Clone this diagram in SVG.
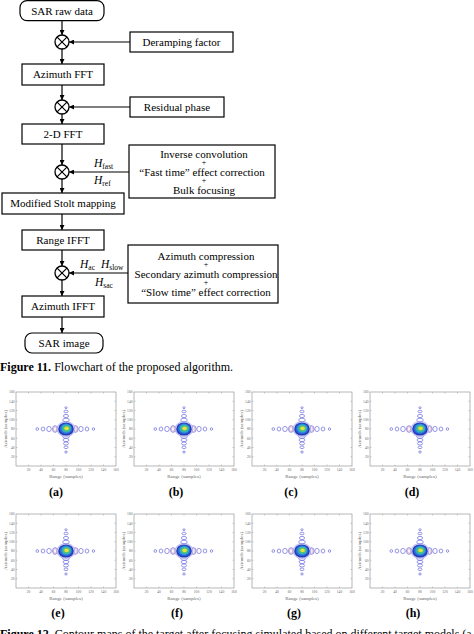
<svg xmlns="http://www.w3.org/2000/svg" xmlns:xlink="http://www.w3.org/1999/xlink" width="474" height="634" viewBox="0 0 474 634">
<style>
.box{fill:#fff;stroke:#000;stroke-width:1.2}
.t{font-family:"Liberation Serif",serif;font-size:11px;fill:#000;text-anchor:middle}
.p{font-family:"Liberation Serif",serif;font-size:8px;fill:#000;text-anchor:middle}
.h{font-family:"Liberation Serif",serif;font-size:11.5px;font-style:italic;fill:#000}
.sub{font-size:7.5px;font-style:normal}
.cn{stroke:#000;stroke-width:1.2;fill:none}
.cap{font-family:"Liberation Serif",serif;font-size:12px;fill:#000}
.sl{font-family:"Liberation Serif",serif;font-size:12px;font-weight:bold;fill:#000;text-anchor:middle}
.ax{fill:#fff;stroke:#888;stroke-width:0.6}
.tk{stroke:#888;stroke-width:0.4}
.tl{font-family:"Liberation Serif",serif;font-size:3.6px;fill:#666}
.al{font-family:"Liberation Serif",serif;font-size:5px;fill:#666;text-anchor:middle}
.lb{fill:none;stroke:#6a6ae0;stroke-width:0.7}
.lp{fill:none;stroke:#d08aa0;stroke-width:0.6}
</style>
<defs>
<marker id="arr" viewBox="0 0 10 10" refX="10" refY="5" markerWidth="5" markerHeight="5" orient="auto" markerUnits="userSpaceOnUse">
<path d="M0,0 L10,5 L0,10 z" fill="#000"/>
</marker>
<g id="mul">
<circle cx="0" cy="0" r="7" fill="#fff" stroke="#000" stroke-width="1.3"/>
<path d="M-4.9,-4.9 L4.9,4.9 M-4.9,4.9 L4.9,-4.9" stroke="#000" stroke-width="1.2"/>
</g>
<g id="plot">
<rect class="ax" x="0" y="0" width="100" height="74"/>
<path class="tk" d="M12.5,74v-1.5M25,74v-1.5M37.5,74v-1.5M50,74v-1.5M62.5,74v-1.5M75,74v-1.5M87.5,74v-1.5M12.5,0v1.5M25,0v1.5M37.5,0v1.5M50,0v1.5M62.5,0v1.5M75,0v1.5M87.5,0v1.5M0,64.75h1.5M0,55.5h1.5M0,46.25h1.5M0,37h1.5M0,27.75h1.5M0,18.5h1.5M0,9.25h1.5M100,64.75h-1.5M100,55.5h-1.5M100,46.25h-1.5M100,37h-1.5M100,27.75h-1.5M100,18.5h-1.5M100,9.25h-1.5"/>
<g class="tl" text-anchor="end">
<text x="-1.5" y="66">20</text><text x="-1.5" y="56.7">40</text><text x="-1.5" y="47.5">60</text><text x="-1.5" y="38.2">80</text><text x="-1.5" y="29">100</text><text x="-1.5" y="19.7">120</text><text x="-1.5" y="10.5">140</text><text x="-1.5" y="1.2">160</text>
</g>
<g class="tl" text-anchor="middle">
<text x="12.5" y="79">20</text><text x="25" y="79">40</text><text x="37.5" y="79">60</text><text x="50" y="79">80</text><text x="62.5" y="79">100</text><text x="75" y="79">120</text><text x="87.5" y="79">140</text><text x="100" y="79">160</text>
</g>
<text class="al" x="50" y="85.5">Range (samples)</text>
<text class="al" transform="translate(-9.5,37) rotate(-90)">Azimuth (samples)</text>
<g transform="translate(50,37)">
<ellipse class="lb" cx="-28.7" cy="0" rx="1.3" ry="1.4"/>
<ellipse class="lb" cx="-23" cy="0" rx="1.8" ry="2"/>
<ellipse class="lb" cx="-17" cy="0" rx="2.3" ry="2.6"/>
<ellipse class="lb" cx="-11" cy="0" rx="2.5" ry="3.4"/>
<ellipse class="lp" cx="-11" cy="0" rx="1.5" ry="2.4"/>
<ellipse class="lb" cx="9.5" cy="0" rx="2.5" ry="3.4"/>
<ellipse class="lp" cx="9.5" cy="0" rx="1.5" ry="2.4"/>
<ellipse class="lb" cx="15" cy="0" rx="2.2" ry="2.6"/>
<ellipse class="lb" cx="21" cy="0" rx="1.8" ry="2"/>
<ellipse class="lb" cx="27.5" cy="0" rx="1.2" ry="1.3"/>
<ellipse class="lb" cx="0" cy="-21.3" rx="1.2" ry="0.9"/>
<ellipse class="lb" cx="0" cy="-17.5" rx="2" ry="1.3"/>
<ellipse class="lb" cx="0" cy="-13" rx="2.6" ry="1.6"/>
<ellipse class="lb" cx="0" cy="-9" rx="3.3" ry="1.8"/>
<ellipse class="lb" cx="0" cy="7.5" rx="3.3" ry="1.8"/>
<ellipse class="lb" cx="0" cy="11" rx="3" ry="1.6"/>
<ellipse class="lb" cx="0" cy="14.5" rx="2.6" ry="1.5"/>
<ellipse class="lb" cx="0" cy="18.3" rx="2" ry="1.3"/>
<ellipse class="lb" cx="0" cy="23" rx="1.3" ry="1"/>
<ellipse cx="0" cy="0" rx="9" ry="7.5" fill="#d8d8f8" stroke="#8080e0" stroke-width="0.5"/>
<ellipse cx="0" cy="0" rx="7.8" ry="6.6" fill="#2438b8"/>
<ellipse cx="0" cy="-0.3" rx="6.4" ry="5.4" fill="#2c6ad8"/>
<ellipse cx="0.3" cy="-0.5" rx="5" ry="4.2" fill="#2aa8d8"/>
<ellipse cx="0.5" cy="-0.6" rx="3.7" ry="3.1" fill="#4cc07a"/>
<ellipse cx="0.6" cy="-0.7" rx="2.3" ry="1.9" fill="#e6e23c"/>
</g>
</g>
</defs>

<g id="connectors">
<line class="cn" x1="62" y1="21" x2="62" y2="35" marker-end="url(#arr)"/>
<line class="cn" x1="62" y1="49" x2="62" y2="64" marker-end="url(#arr)"/>
<line class="cn" x1="130" y1="42" x2="69" y2="42" marker-end="url(#arr)"/>
<line class="cn" x1="62" y1="85" x2="62" y2="100" marker-end="url(#arr)"/>
<line class="cn" x1="62" y1="114" x2="62" y2="124" marker-end="url(#arr)"/>
<line class="cn" x1="130" y1="107" x2="69" y2="107" marker-end="url(#arr)"/>
<line class="cn" x1="62" y1="144" x2="62" y2="165" marker-end="url(#arr)"/>
<line class="cn" x1="62" y1="179" x2="62" y2="193" marker-end="url(#arr)"/>
<line class="cn" x1="129" y1="172" x2="69" y2="172" marker-end="url(#arr)"/>
<line class="cn" x1="62" y1="214" x2="62" y2="230" marker-end="url(#arr)"/>
<line class="cn" x1="62" y1="250" x2="62" y2="266" marker-end="url(#arr)"/>
<line class="cn" x1="62" y1="280" x2="62" y2="296" marker-end="url(#arr)"/>
<line class="cn" x1="128" y1="273" x2="69" y2="273" marker-end="url(#arr)"/>
<line class="cn" x1="62" y1="317" x2="62" y2="333" marker-end="url(#arr)"/>
</g>

<g id="sar-raw"><rect class="box" x="20" y="0.6" width="84" height="20" rx="7"/><text class="t" x="62" y="14.5">SAR raw data</text></g>
<g id="mul1"><use href="#mul" x="62" y="42"/></g>
<g id="deramp"><rect class="box" x="130" y="32" width="103" height="20"/><text class="t" x="181.5" y="45.5">Deramping factor</text></g>
<g id="az-fft"><rect class="box" x="22" y="64" width="82" height="21"/><text class="t" x="63" y="78">Azimuth FFT</text></g>
<g id="mul2"><use href="#mul" x="62" y="107"/></g>
<g id="residual"><rect class="box" x="130" y="97" width="94" height="20"/><text class="t" x="177" y="110.5">Residual phase</text></g>
<g id="fft2d"><rect class="box" x="22" y="124" width="82" height="20"/><text class="t" x="63" y="137.5">2-D FFT</text></g>
<g id="mul3"><use href="#mul" x="62" y="172"/>
<text class="h" x="94" y="167">H<tspan class="sub" dy="1.5">fast</tspan></text>
<text class="h" x="94" y="184">H<tspan class="sub" dy="1.5">ref</tspan></text></g>
<g id="box1"><rect class="box" x="129" y="145" width="146" height="53"/>
<text class="t" x="204" y="157.5">Inverse convolution</text>
<text class="p" x="204" y="165">+</text>
<text class="t" x="202" y="175.5">“Fast time”  effect correction</text>
<text class="p" x="204" y="183">+</text>
<text class="t" x="204" y="193.5">Bulk focusing</text></g>
<g id="stolt"><rect class="box" x="2" y="193" width="122" height="21"/><text class="t" x="63" y="207">Modified Stolt mapping</text></g>
<g id="range-ifft"><rect class="box" x="22" y="230" width="82" height="20"/><text class="t" x="63" y="243.5">Range  IFFT</text></g>
<g id="mul4"><use href="#mul" x="62" y="273"/>
<text class="h" x="80" y="268">H<tspan class="sub" dy="1.5">ac</tspan></text>
<text class="h" x="101" y="268">H<tspan class="sub" dy="1.5">slow</tspan></text>
<text class="h" x="95" y="286">H<tspan class="sub" dy="1.5">sac</tspan></text></g>
<g id="box2"><rect class="box" x="128" y="245" width="150" height="58"/>
<text class="t" x="206" y="259.5">Azimuth compression</text>
<text class="p" x="206" y="267">+</text>
<text class="t" x="206" y="277.5">Secondary azimuth compression</text>
<text class="p" x="206" y="285">+</text>
<text class="t" x="206" y="295.5">“Slow time”  effect correction</text></g>
<g id="az-ifft"><rect class="box" x="22" y="296" width="82" height="21"/><text class="t" x="63" y="310">Azimuth IFFT</text></g>
<g id="sar-image"><rect class="box" x="25" y="333" width="78" height="20" rx="7"/><text class="t" x="64" y="347">SAR image</text></g>

<text class="cap" x="0" y="371"><tspan font-weight="bold">Figure 11.</tspan> Flowchart of the proposed algorithm.</text>

<g id="plots">
<use href="#plot" x="16" y="392"/>
<use href="#plot" x="134" y="392"/>
<use href="#plot" x="252" y="392"/>
<use href="#plot" x="370" y="392"/>
<use href="#plot" x="16" y="514"/>
<use href="#plot" x="134" y="514"/>
<use href="#plot" x="252" y="514"/>
<use href="#plot" x="370" y="514"/>
</g>
<text class="sl" x="56" y="496">(a)</text>
<text class="sl" x="176" y="496">(b)</text>
<text class="sl" x="291" y="496">(c)</text>
<text class="sl" x="412" y="496">(d)</text>
<text class="sl" x="58" y="617">(e)</text>
<text class="sl" x="177" y="617">(f)</text>
<text class="sl" x="294" y="617">(g)</text>
<text class="sl" x="413" y="617">(h)</text>
<text class="cap" x="0" y="638" font-size="13"><tspan font-weight="bold">Figure 12.</tspan> Contour maps of the target after focusing simulated based on different target models (a–d) to di</text>
</svg>
